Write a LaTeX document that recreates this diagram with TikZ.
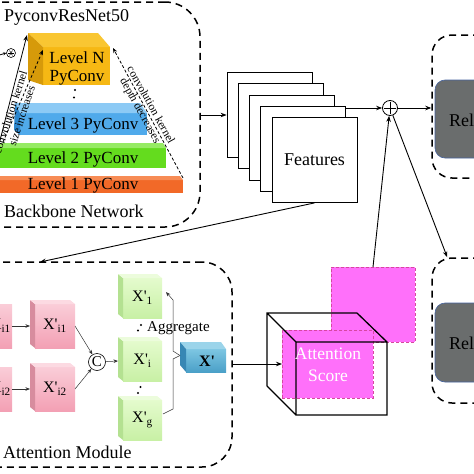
\documentclass[tikz,border=0pt]{standalone}
\usepackage{fontspec}
\setmainfont{Liberation Serif}
\usetikzlibrary{arrows.meta,calc}
\definecolor{gold}{RGB}{246,184,20}
\definecolor{goldtop}{RGB}{249,198,50}
\definecolor{goldside}{RGB}{214,154,10}
\definecolor{lvthree}{RGB}{80,170,235}
\definecolor{lvthreetop}{RGB}{140,202,245}
\definecolor{lvthreeside}{RGB}{45,135,205}
\definecolor{lvtwo}{RGB}{100,220,30}
\definecolor{lvtwotop}{RGB}{150,235,100}
\definecolor{lvone}{RGB}{242,105,40}
\definecolor{lvonetop}{RGB}{247,140,85}
\definecolor{pinkA}{RGB}{250,205,216}
\definecolor{pinkB}{RGB}{243,160,180}
\definecolor{pinkside}{RGB}{215,140,158}
\definecolor{pinktop}{RGB}{252,218,226}
\definecolor{greenA}{RGB}{228,251,205}
\definecolor{greenB}{RGB}{200,240,165}
\definecolor{greenside}{RGB}{180,225,145}
\definecolor{greentop}{RGB}{236,252,220}
\definecolor{blueA}{RGB}{125,198,226}
\definecolor{blueB}{RGB}{75,160,200}
\definecolor{blueside}{RGB}{55,135,180}
\definecolor{bluetop}{RGB}{155,212,234}
\definecolor{mag}{RGB}{255,112,250}
\definecolor{magedge}{RGB}{215,70,160}
\definecolor{relgray}{RGB}{106,109,109}
\definecolor{reledge}{RGB}{70,100,160}
\tikzset{
  arr/.style={-{Stealth[length=6pt,width=4.5pt]}, line width=0.9pt},
  tarr/.style={-{Stealth[length=4.5pt,width=3.5pt]}, line width=0.5pt, draw=black!80},
  darr/.style={-{Stealth[length=5pt,width=4pt]}, line width=0.8pt, dash pattern=on 3pt off 2pt},
  dbox/.style={draw, dash pattern=on 7pt off 5pt, line width=1.5pt, inner sep=0},
  feat/.style={draw, fill=white, line width=0.8pt, minimum width=85pt, minimum height=85pt, inner sep=0},
  bigtxt/.style={font=\fontsize{18}{20}\selectfont, inner sep=0},
  lvtxt/.style={font=\fontsize{17}{20}\selectfont, inner sep=0, align=center},
  rotlbl/.style={font=\fontsize{11.5}{12}\selectfont, inner sep=0, align=center},
  xtxt/.style={font=\fontsize{16}{18}\selectfont, inner sep=0},
  blk/.style={inner sep=0, outer sep=0},
  pinkface/.style={blk, top color=pinkA, bottom color=pinkB, minimum width=#1, minimum height=44pt},
  greenface/.style={blk, top color=greenA, bottom color=greenB, minimum width=39pt, minimum height=40pt},
  magbox/.style={blk, fill=mag, draw=magedge, line width=0.8pt, dash pattern=on 3pt off 2pt},
  relbox/.style={blk, fill=relgray, draw=reledge, line width=0.6pt, rounded corners=10pt, minimum width=75pt},
}
\begin{document}
\begin{tikzpicture}[x=1pt,y=-1pt]
\useasboundingbox (0,0) rectangle (474,474);

% ---------- backbone ----------
\node[dbox, rounded corners=35pt, minimum width=240pt, minimum height=225pt] (bb) at (80,114.5) {};
\node[bigtxt, anchor=west] (bbt) at (4,17) {PyconvResNet50};
\node[bigtxt, anchor=west] (bbn) at (4,211) {Backbone Network};

% Level N
\node[blk, fill=gold, minimum width=67pt, minimum height=38pt] (gN) at (76.5,66) {};
\fill[goldtop] (gN.north west) -- (28,33) -- (98,33) -- (gN.north east) -- cycle;
\fill[goldside] (28,33) -- (gN.north west) -- (gN.south west) -- (28,80) -- cycle;
\node[lvtxt] (gNt) at (77,68) {Level N\\[-2pt]PyConv};
\fill (75,90) circle (1.2) (74,97.5) circle (1.2) (73,105) circle (1.2);

% Level 3
\node[blk, fill=lvthree, minimum width=127pt, minimum height=22pt] (b3) at (83.5,124) {};
\fill[lvthreetop] (b3.north west) -- (15,103) -- (140,103) -- (b3.north east) -- cycle;
\fill[lvthreeside] (15,103) -- (b3.north west) -- (b3.south west) -- (14,130) -- cycle;
\node[lvtxt] (b3t) at (83,125) {Level 3 PyConv};

% Level 2
\node[blk, fill=lvtwo, minimum width=168pt, minimum height=20pt] (l2) at (82,158) {};
\fill[lvtwotop] (l2.north west) -- ++(0,-5) -- ($(l2.north east)+(-3,-5)$) -- (l2.north east) -- cycle;
\node[lvtxt] (l2t) at (83,159) {Level 2 PyConv};

% Level 1
\node[blk, fill=lvone, minimum width=185pt, minimum height=13pt] (l1) at (90.5,186.5) {};
\fill[lvonetop] (l1.north west) -- ++(0,-4) -- ($(l1.north east)+(-3,-4)$) -- (l1.north east) -- cycle;
\node[lvtxt] (l1t) at (83,185.5) {Level 1 PyConv};

% kernel arrows and labels
\coordinate (sA) at (-3,152);
\coordinate (sB) at (27,35);
\draw[arr, line width=0.8pt] (sA) -- (sB);
\coordinate (dA) at (3,142);
\draw[darr] (dA) -- ($(gN.north west)+(0,3)$);
\coordinate (dR) at (183,178);
\draw[darr] (dR) -- ($(gN.north east)+(3,1)$);
\node[rotlbl, rotate=72] (lk) at (16,114) {convolution kernel\\size increases};
\node[rotlbl, rotate=-61] (rk) at (145,108) {convolution kernel\\depth decreases};

% conv symbol
\node[circle, draw, minimum size=9pt, inner sep=0, line width=0.6pt, fill=white] (cv) at (11,53) {};
\foreach \a in {0,60,120} \draw[line width=0.5pt] ($(cv)+(\a:2.8)$) -- ($(cv)+(\a+180:2.8)$);
\coordinate (cvin) at (-4,56);
\draw[-{Stealth[length=3pt,width=3pt]}, line width=0.8pt] (cvin) -- (cv.west);

% ---------- features ----------
\node[feat] (f1) at (269.5,115) {};
\node[feat] (f2) at (280.75,126.25) {};
\node[feat] (f3) at (292,137.5) {};
\node[feat] (f4) at (303.25,148.75) {};
\node[feat, font=\fontsize{18}{20}\selectfont] (f5) at (314.5,160) {Features};
\coordinate (bbR) at (200,115);
\draw[arr] (bbR) -- (f1.west);

\node[circle, draw, line width=0.8pt, minimum size=15pt, inner sep=0, fill=white] (plus) at (390,108) {};
\draw[line width=0.8pt] ($(plus.north)+(0,2)$) -- ($(plus.south)+(0,-2)$) ($(plus.west)+(2,0)$) -- ($(plus.east)+(-2,0)$);
\draw[arr] (f4.east |- plus) -- (plus.west);

% ---------- Rel boxes ----------
\node[dbox, rounded corners=20pt, minimum width=68pt, minimum height=143pt] (rel1) at (466,106.5) {};
\node[relbox, minimum height=78pt] (g1b) at (472.5,119) {};
\node[bigtxt, anchor=west] (r1t) at (449,120) {Relation};
\node[dbox, rounded corners=20pt, minimum width=68pt, minimum height=145pt] (rel2) at (466,330.5) {};
\node[relbox, minimum height=79pt] (g2b) at (472.5,342.5) {};
\node[bigtxt, anchor=west] (r2t) at (449,343) {Relation};

\draw[arr] (plus.east) -- (rel1.west |- plus);
\draw[arr] (plus) -- ($(rel2.north west)+(16,0)$);

% ---------- attention module ----------
\node[dbox, rounded corners=30pt, minimum width=272pt, minimum height=205pt] (am) at (96,364.5) {};
\node[bigtxt, anchor=west] (amt) at (3,452) {Attention Module};
\coordinate (amT) at (40,262);
\draw[arr] (f5.south) -- (amT);

% pink boxes
\node[pinkface=42pt] (p0) at (-9,326) {};
\node[xtxt, anchor=east] (p0t) at (11,326) {X\textsubscript{i1}};
\node[pinkface=42pt] (p0b) at (-9,389) {};
\node[xtxt, anchor=east] (p0bt) at (11,389) {X\textsubscript{i2}};
\foreach \n/\cy/\lab in {p1/326/i1, p2/389/i2}{
  \node[pinkface=40pt] (\n) at (55,\cy) {};
  \fill[pinkside] ($(\n.north west)+(-5,-4)$) -- (\n.north west) -- (\n.south west) -- ($(\n.south west)+(-5,-4)$) -- cycle;
  \fill[pinktop] ($(\n.north west)+(-5,-4)$) -- ($(\n.north east)+(-5,-4)$) -- (\n.north east) -- (\n.north west) -- cycle;
  \node[xtxt] (\n t) at (55,\cy) {X\textquotesingle\textsubscript{\lab}};
}
\draw[tarr] (p0.east) -- ($(p1.west)+(-5,0)$);
\draw[tarr] (p0b.east) -- ($(p2.west)+(-5,0)$);
\node[circle, draw, line width=0.6pt, minimum size=17pt, inner sep=0, font=\fontsize{15}{16}\selectfont] (cc) at (97,362) {C};
\draw[tarr] (p1.east) -- (cc);
\draw[tarr] (p2.east) -- (cc);

% green boxes
\foreach \n/\cy/\lab in {ga/298/1, gi/361/i, gg/420/g}{
  \node[greenface] (\n) at (142.5,\cy) {};
  \fill[greenside] ($(\n.north west)+(-5,-4)$) -- (\n.north west) -- (\n.south west) -- ($(\n.south west)+(-5,-4)$) -- cycle;
  \fill[greentop] ($(\n.north west)+(-5,-4)$) -- ($(\n.north east)+(-5,-4)$) -- (\n.north east) -- (\n.north west) -- cycle;
  \node[xtxt] (\n t) at (142.5,\cy) {X\textquotesingle\textsubscript{\lab}};
}
\draw[tarr] (cc) -- ($(gi.west)+(-5,0)$);
\fill (138,330.5) circle (1.1) (141,325) circle (1.1);
\fill (138,393) circle (1.1) (140.5,387) circle (1.1);
\node[font=\fontsize{15}{16}\selectfont, inner sep=0, anchor=west] (agg) at (147,328) {Aggregate};

% blue X'
\node[blk, top color=blueA, bottom color=blueB, minimum width=40pt, minimum height=23pt] (xp) at (206,360.5) {};
\fill[bluetop] ($(xp.north west)+(-6,-7)$) -- ($(xp.north east)+(-5,-7)$) -- (xp.north east) -- (xp.north west) -- cycle;
\fill[blueside] ($(xp.north west)+(-6,-7)$) -- (xp.north west) -- (xp.south west) -- ($(xp.south west)+(-6,-7)$) -- cycle;
\node[xtxt, font=\fontsize{16}{18}\selectfont\bfseries] (xpt) at (207,361) {X\textquotesingle};
\coordinate (brtip) at ($(xp.west)+(-6,-5)$);
\draw[tarr] (brtip) -- (173,351) -- (173,300) -- ($(ga.east)+(4,-6)$);
\draw[line width=0.5pt, draw=black!80] (brtip) -- (173,359) -- (173,409) -- ($(gg.east)+(1,-6)$);

% ---------- attention score ----------
\node[magbox, minimum width=84pt, minimum height=75pt] (mag2) at (373,304.5) {};
\node[magbox, minimum width=91pt, minimum height=68pt] (mag1) at (327.5,364) {};
\draw[line width=1.3pt, line join=miter]
  (267,386) -- (267,313) -- (357,313)
  (296,342) -- (387,342) -- (387,415) -- (296,415) -- cycle
  (267,313) -- (296,342)
  (357,313) -- (387,342)
  (267,386) -- (296,415);
\node[font=\fontsize{17.5}{22}\selectfont, text=white, inner sep=0, align=center] (ast) at (328,365) {Attention\\Score};

\coordinate (amR) at (am.east |- mag1);
\draw[arr] (amR) -- (mag1.west);
\draw[arr] (mag2.north) -- (plus);
\end{tikzpicture}
\end{document}
